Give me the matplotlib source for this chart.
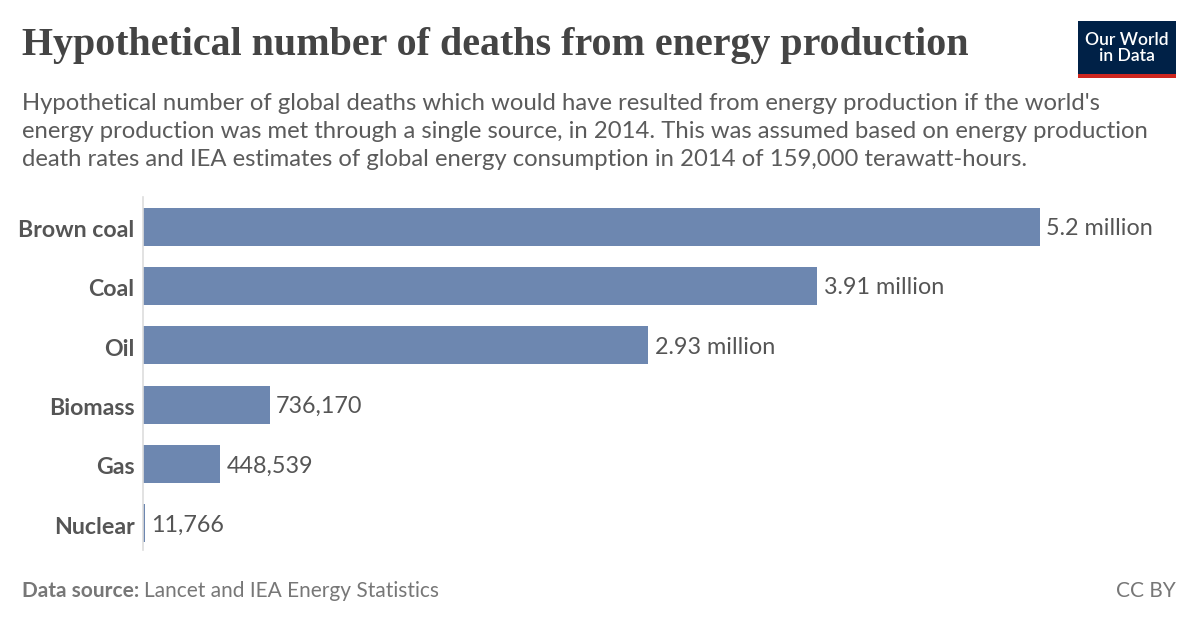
import matplotlib.pyplot as plt
import matplotlib.transforms as mtransforms
from matplotlib.patches import Rectangle

sources = ["Brown coal", "Coal", "Oil", "Biomass", "Gas", "Nuclear"]
deaths = [5200000, 3910000, 2930000, 736170, 448539, 11766]
value_labels = ["5.2 million", "3.91 million", "2.93 million", "736,170", "448,539", "11,766"]

title = "Hypothetical number of deaths from energy production"
subtitle = ("Hypothetical number of global deaths which would have resulted from energy production if the world's\n"
            "energy production was met through a single source, in 2014. This was assumed based on energy production\n"
            "death rates and IEA estimates of global energy consumption in 2014 of 159,000 terawatt-hours.")

W, H = 1200, 627
fig = plt.figure(figsize=(W / 100, H / 100), dpi=100)
plt.rcParams['font.family'] = ['Lato', 'DejaVu Sans']

# axes placed in pixel terms
left, right, top, bottom = 143, 1180, 197, 550
ax = fig.add_axes([left / W, 1 - bottom / H, (right - left) / W, (bottom - top) / H])

bar_color = "#6d87b0"
ypos = list(range(len(sources)))
ax.barh(ypos, deaths, height=0.64, color=bar_color, left=0)
xmax = 5200000 * (right - left) / (1040 - left)
ax.set_xlim(0, xmax)
ax.set_ylim(5.45, -0.5)

# nudge labels down ~2px
down = mtransforms.ScaledTranslation(0, -2 / 100, fig.dpi_scale_trans)

for y, v, lab in zip(ypos, deaths, value_labels):
    ax.text(v + xmax * 0.006, y, lab, va="center", ha="left", fontsize=16.8, color="#555555",
            transform=ax.transData + down)

ax.set_yticks(ypos)
ax.set_yticklabels(sources, fontsize=16.7, fontweight="bold", color="#555555")
ax.tick_params(axis="y", length=0, pad=6)
for t in ax.get_yticklabels():
    t.set_transform(t.get_transform() + down)
ax.set_xticks([])
for s in ["top", "right", "bottom"]:
    ax.spines[s].set_visible(False)
ax.spines["left"].set_color("#dddddd")
ax.spines["left"].set_linewidth(1.2)

fig.text(22 / W, 1 - 46 / H, title, fontsize=28.8, fontweight="bold", color="#444444",
         family=["Liberation Serif", "DejaVu Serif"], va="center", ha="left")
fig.text(22 / W, 1 - 92.5 / H, subtitle, fontsize=17.2, color="#5b5b5b", va="top", ha="left",
         linespacing=1.43)

src_bold = fig.text(22 / W, 1 - 591 / H, "Data source:", fontsize=15, fontweight="bold",
                    color="#777777", va="center", ha="left")
fig.canvas.draw()
bb = src_bold.get_window_extent()
fig.text((bb.x1 + 5) / W, 1 - 591 / H, "Lancet and IEA Energy Statistics", fontsize=15,
         color="#777777", va="center", ha="left")
fig.text(1176 / W, 1 - 591 / H, "CC BY", fontsize=15, color="#777777", va="center", ha="right")

# logo
lx, ly, lw, lh = 1078, 21, 98, 57
fig.patches.append(Rectangle((lx / W, 1 - (ly + lh) / H), lw / W, lh / H, transform=fig.transFigure,
                             facecolor="#002147", edgecolor="none"))
fig.patches.append(Rectangle((lx / W, 1 - (ly + lh) / H), lw / W, 4 / H, transform=fig.transFigure,
                             facecolor="#ce261e", edgecolor="none"))
fig.text((lx + lw / 2) / W, 1 - (ly + 27) / H, "Our World\nin Data", fontsize=12.6, color="white",
         fontweight="semibold", va="center", ha="center", linespacing=1.05)

fig.savefig("out.png", dpi=100, facecolor="white")
